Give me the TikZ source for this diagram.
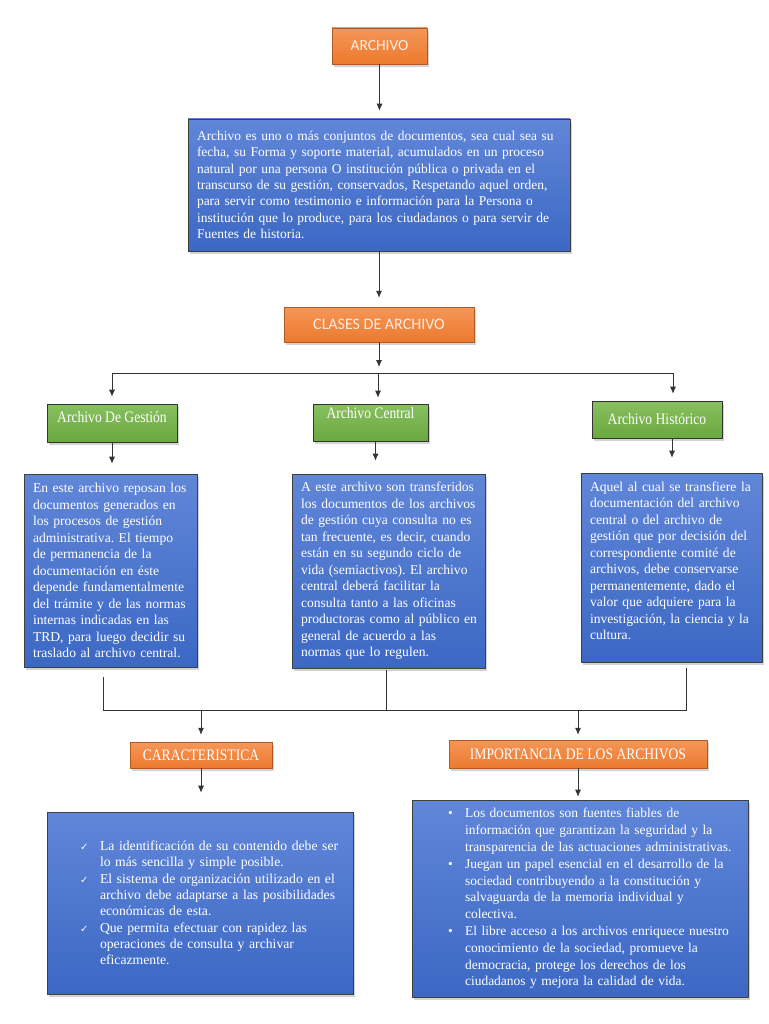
\documentclass[tikz,border=0pt]{standalone}
\usepackage{fontspec}
\setmainfont{Liberation Serif}
\newfontfamily\hdrfont{Carlito}
\newfontfamily\lblfont[FakeStretch=0.85]{Liberation Serif}
\newfontfamily\symfont{DejaVu Sans}
\usetikzlibrary{shadows,arrows.meta}
\frenchspacing

\definecolor{blueTop}{RGB}{96,134,216}
\definecolor{blueBot}{RGB}{60,104,196}
\definecolor{orTop}{RGB}{245,150,88}
\definecolor{orBot}{RGB}{236,122,46}
\definecolor{grTop}{RGB}{136,192,96}
\definecolor{grBot}{RGB}{106,168,64}
\definecolor{peach}{RGB}{253,236,224}

\newcommand{\chkitem}{\hspace*{26pt}\makebox[20pt][l]{\symfont\fontsize{10}{10}\selectfont ✓}}
\newcommand{\chkcont}{\hspace*{46pt}}
\newcommand{\dotitem}{\hspace*{29pt}\makebox[17pt][l]{•}}
\newcommand{\dotcont}{\hspace*{46pt}}

\begin{document}
\begin{tikzpicture}[x=1pt, y=-1pt,
    >={Latex[length=7pt,width=6pt]},
    line/.style={black!80, line width=0.8pt},
    boxshadow/.style={drop shadow={shadow xshift=2pt, shadow yshift=-3pt, opacity=0.35}},
    orangebox/.style={draw=orBot!75!black, line width=0.5pt, top color=orTop, bottom color=orBot, boxshadow},
    hdr/.style={orangebox, text=peach, font=\hdrfont\fontsize{15.5}{18}\selectfont},
    lbl/.style={orangebox, text=white, font=\lblfont\fontsize{16}{18}\selectfont},
    greenbox/.style={draw=black!80, line width=0.6pt, top color=grTop, bottom color=grBot, boxshadow, text=white, font=\lblfont\fontsize{16}{18}\selectfont},
    bluebox/.style={draw=black!75, line width=0.6pt, top color=blueTop, bottom color=blueBot, boxshadow, text=white, align=left, inner xsep=9pt, font=\fontsize{13.6}{16.5}\selectfont,
        execute at begin node={\rightskip=0pt plus 1fil minus 1000pt\hyphenpenalty=10000\relax}}]
    \useasboundingbox (0,0) rectangle (768,1024);

    \node[hdr, minimum width=95pt, minimum height=36pt] (archivo) at (379.5,46) {ARCHIVO};
    \node[bluebox, text width=364pt, minimum height=132pt, font=\fontsize{13.5}{16.4}\selectfont] (defin) at (379,185) {Archivo es uno o más conjuntos de documentos, sea cual sea su\\
        fecha, su Forma y soporte material, acumulados en un proceso\\
        natural por una persona O institución pública o privada en el\\
        transcurso de su gestión, conservados, Respetando aquel orden,\\
        para servir como testimonio e información para la Persona o\\
        institución que lo produce, para los ciudadanos o para servir de\\
        Fuentes de historia.};
    \node[hdr, minimum width=190pt, minimum height=35pt, font=\hdrfont\fontsize{16}{18}\selectfont] (clases) at (379,324.5) {CLASES DE ARCHIVO};

    \node[greenbox, minimum width=130pt, minimum height=38pt, text depth=13pt] (gestion) at (112,423) {Archivo De Gestión};
    \node[greenbox, minimum width=115pt, minimum height=37pt, text depth=19pt] (central) at (370.5,422.5) {Archivo Central};
    \node[greenbox, minimum width=130pt, minimum height=37pt] (historico) at (657,419.5) {Archivo Histórico};

    \node[bluebox, text width=155pt, minimum height=193pt] (tgestion) at (110.5,570.5) {En este archivo reposan los\\
        documentos generados en\\
        los procesos de gestión\\
        administrativa. El tiempo\\
        de permanencia de la\\
        documentación en éste\\
        depende fundamentalmente\\
        del trámite y de las normas\\
        internas indicadas en las\\
        TRD, para luego decidir su\\
        traslado al archivo central.};
    \node[bluebox, text width=175pt, minimum height=194pt] (tcentral) at (388.5,571) {A este archivo son transferidos\\
        los documentos de los archivos\\
        de gestión cuya consulta no es\\
        tan frecuente, es decir, cuando\\
        están en su segundo ciclo de\\
        vida (semiactivos). El archivo\\
        central deberá facilitar la\\
        consulta tanto a las oficinas\\
        productoras como al público en\\
        general de acuerdo a las\\
        normas que lo regulen.};
    \node[bluebox, text width=163pt, minimum height=189pt] (thistorico) at (671.5,567.5) {Aquel al cual se transfiere la\\
        documentación del archivo\\
        central o del archivo de\\
        gestión que por decisión del\\
        correspondiente comité de\\
        archivos, debe conservarse\\
        permanentemente, dado el\\
        valor que adquiere para la\\
        investigación, la ciencia y la\\
        cultura.\par\vspace{13pt}};

    \node[lbl, minimum width=142pt, minimum height=26pt] (caract) at (201,755) {CARACTERISTICA};
    \node[lbl, minimum width=258pt, minimum height=28pt] (import) at (578,754) {IMPORTANCIA DE LOS ARCHIVOS};

    \node[bluebox, inner xsep=7pt, text width=292pt, minimum height=182pt, font=\fontsize{13.7}{16.3}\selectfont] (tcaract) at (200,903) {\chkitem La identificación de su contenido debe ser\\
        \chkcont lo más sencilla y simple posible.\\
        \chkitem El sistema de organización utilizado en el\\
        \chkcont archivo debe adaptarse a las posibilidades\\
        \chkcont económicas de esta.\\
        \chkitem Que permita efectuar con rapidez las\\
        \chkcont operaciones de consulta y archivar\\
        \chkcont eficazmente.};
    \node[bluebox, inner xsep=7pt, text width=322pt, minimum height=197pt, font=\fontsize{13.5}{16.8}\selectfont] (timport) at (580,898.5) {\dotitem Los documentos son fuentes fiables de\\
        \dotcont información que garantizan la seguridad y la\\
        \dotcont transparencia de las actuaciones administrativas.\\
        \dotitem Juegan un papel esencial en el desarrollo de la\\
        \dotcont sociedad contribuyendo a la constitución y\\
        \dotcont salvaguarda de la memoria individual y\\
        \dotcont colectiva.\\
        \dotitem El libre acceso a los archivos enriquece nuestro\\
        \dotcont conocimiento de la sociedad, promueve la\\
        \dotcont democracia, protege los derechos de los\\
        \dotcont ciudadanos y mejora la calidad de vida.};

    \coordinate (split) at (378,373);
    \coordinate (splitr) at (673,373);
    \coordinate (mergel) at (103,710);
    \coordinate (merge) at (386,710);
    \coordinate (merger) at (686,710);

    \draw[line, ->, shorten >=8pt] (archivo.south) -- (archivo.south |- defin.north);
    \draw[line, ->, shorten >=9pt] (defin.south) -- (defin.south |- clases.north);
    \draw[line, ->, shorten >=6pt] (clases.south) -- (clases.south |- split);
    \draw[line] (gestion.north |- split) -- (splitr);
    \draw[line, ->, shorten >=7pt] (gestion.north |- split) -- (gestion.north);
    \draw[line, ->, shorten >=6pt] (split) -- (split |- central.north);
    \draw[line, ->, shorten >=7pt] (splitr) -- (splitr |- historico.north);

    \draw[line, ->, shorten >=10pt] (gestion.south) -- (gestion.south |- tgestion.north);
    \draw[line, ->, shorten >=13pt] ([xshift=5pt]central.south) -- ([xshift=5pt]central.south |- tcentral.north);
    \draw[line, ->, shorten >=15pt] ([xshift=15pt]historico.south) -- ([xshift=15pt]historico.south |- thistorico.north);

    \draw[line, shorten <=10pt, shorten >=6pt] (tgestion.south -| mergel) -- (mergel) -- (merger) -- (thistorico.south -| merger);
    \draw[line, shorten <=2pt] (tcentral.south -| merge) -- (merge);
    \draw[line, ->, shorten >=7pt] (caract.north |- merge) -- (caract.north);
    \draw[line, ->, shorten >=5pt] (import.north |- merge) -- (import.north);
    \draw[line, ->, shorten >=19pt] (caract.south) -- (caract.south |- tcaract.north);
    \draw[line, ->, shorten >=3pt] (import.south) -- (import.south |- timport.north);
\end{tikzpicture}
\end{document}
